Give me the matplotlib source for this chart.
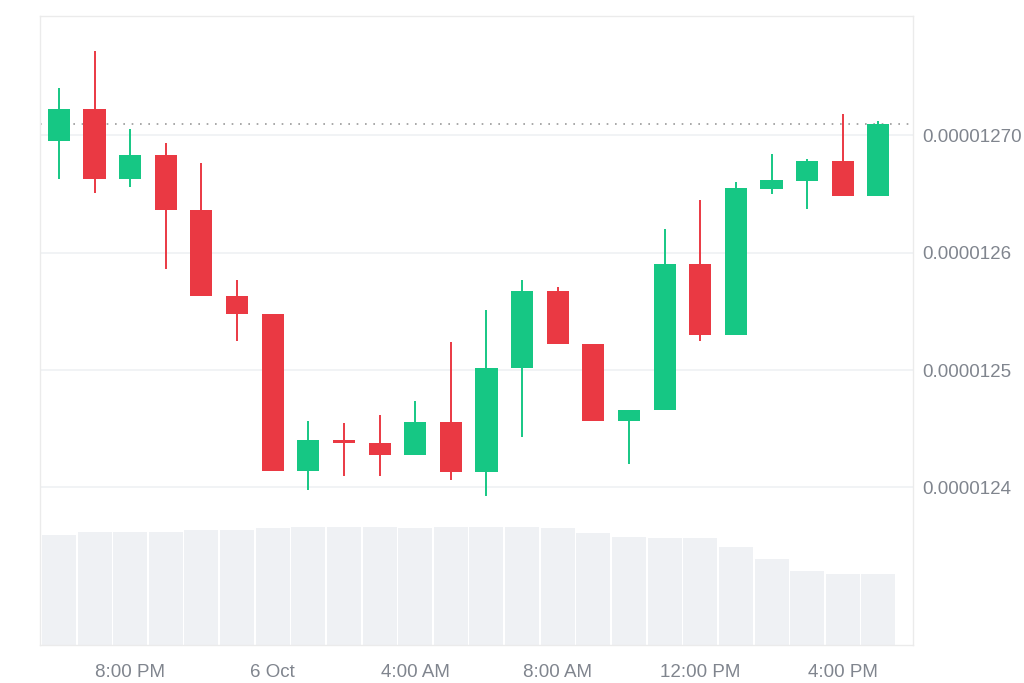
import numpy as np
import matplotlib.pyplot as plt

# hourly candles, 5 Oct 6 PM -> 6 Oct 5 PM (prices in 1e-9 units)
opens = [12695, 12722, 12663, 12683, 12636, 12563, 12548, 12414, 12440, 12438, 12428, 12456,
         12413, 12502, 12567, 12522, 12457, 12466, 12590, 12530, 12654, 12661, 12678, 12648]
highs = [12740, 12772, 12705, 12693, 12676, 12577, 12548, 12457, 12455, 12462, 12474, 12524,
         12551, 12577, 12571, 12522, 12466, 12620, 12645, 12660, 12684, 12680, 12718, 12712]
lows = [12663, 12651, 12656, 12586, 12563, 12525, 12414, 12398, 12410, 12410, 12428, 12406,
        12393, 12443, 12522, 12457, 12420, 12466, 12525, 12530, 12650, 12637, 12648, 12648]
closes = [12722, 12663, 12683, 12636, 12563, 12548, 12414, 12440, 12438, 12428, 12456, 12413,
          12502, 12567, 12522, 12457, 12466, 12590, 12530, 12655, 12662, 12678, 12648, 12710]
volume = [110, 113, 113, 113, 115, 115, 117, 118, 118, 118, 117, 118,
          118, 118, 117, 112, 108, 107, 107, 98, 86, 74, 71, 71]

tick_idx = [2, 6, 10, 14, 18, 22]
tick_labels = ['8:00 PM', '6 Oct', '4:00 AM', '8:00 AM', '12:00 PM', '4:00 PM']
ytick_vals = [1.27e-5, 1.26e-5, 1.25e-5, 1.24e-5]
ytick_labels = ['0.00001270', '0.0000126', '0.0000125', '0.0000124']

GREEN = '#16c784'
RED = '#ea3943'
GRAY_TXT = '#80858e'
GRID = '#eff1f3'

o = np.array(opens) * 1e-9
h = np.array(highs) * 1e-9
l = np.array(lows) * 1e-9
c = np.array(closes) * 1e-9
x = np.arange(len(o))

plt.rcParams['font.family'] = ['Liberation Sans', 'DejaVu Sans']

fig = plt.figure(figsize=(10.24, 6.83), dpi=100)
ax = fig.add_axes([40 / 1024, 38 / 683, 873 / 1024, 629 / 683])
axv = ax.twinx()
ax.set_zorder(2)
axv.set_zorder(1)
ax.patch.set_visible(False)

# volume in the background
axv.bar(x, volume, width=0.955, color='#eff1f4', zorder=1)
axv.set_ylim(0, max(volume) / 0.1876)
axv.set_yticks([])
for s in axv.spines.values():
    s.set_visible(False)

# candles
for i in x:
    col = GREEN if c[i] >= o[i] else RED
    ax.vlines(i, l[i], h[i], color=col, lw=1.4, zorder=3)
    body = max(abs(c[i] - o[i]), 0.25e-9)
    ax.bar(i, body, bottom=min(o[i], c[i]), width=0.62, color=col, zorder=4)

# last price line
ax.axhline(c[-1], color='#9a9a9a', lw=1.2, ls=(0, (1, 4)), zorder=2)

ax.set_xlim(-0.53, 23.97)
ax.set_ylim(12265.8e-9, 12801.6e-9)
ax.set_yticks(ytick_vals)
ax.set_yticklabels(ytick_labels)
ax.yaxis.tick_right()
ax.set_xticks(tick_idx)
ax.set_xticklabels(tick_labels)
ax.tick_params(axis='both', length=0, labelsize=13.5, colors=GRAY_TXT)
ax.tick_params(axis='y', pad=7)
ax.tick_params(axis='x', pad=14)
ax.grid(axis='y', color=GRID, lw=1.2)
ax.set_axisbelow(True)
for s in ax.spines.values():
    s.set_color('#ebebeb')
    s.set_linewidth(1.0)

fig.savefig('out.png', dpi=100, facecolor='white')
